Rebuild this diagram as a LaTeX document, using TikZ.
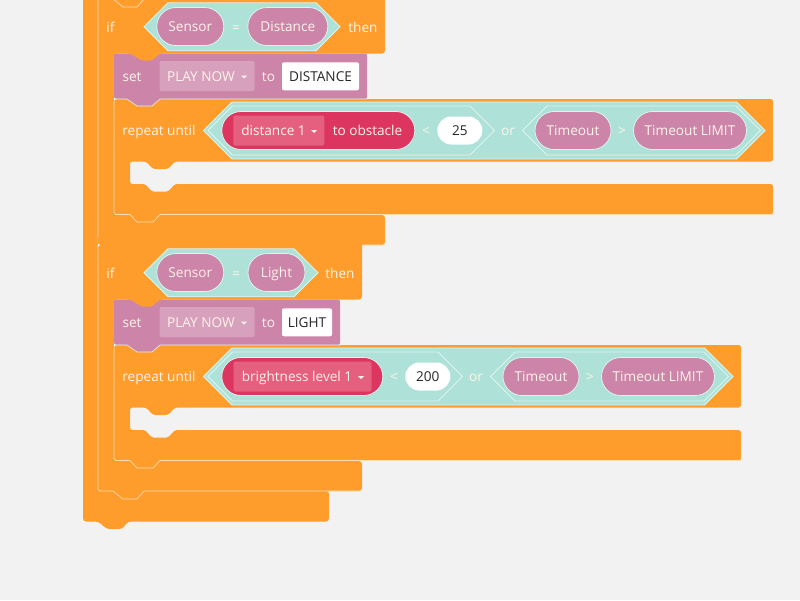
\documentclass[tikz,border=0pt]{standalone}
\usepackage{fontspec}
\setmainfont{Open Sans}
\usetikzlibrary{shapes.misc}
\definecolor{bgc}{HTML}{F2F2F2}
\definecolor{ctrl}{HTML}{FF9D2C}
\definecolor{edge}{HTML}{FFDDB0}
\definecolor{teal}{HTML}{AEE2D8}
\definecolor{tealedge}{HTML}{DDF4EE}
\definecolor{var}{HTML}{CC85A9}
\definecolor{vardrop}{HTML}{D7A0BC}
\definecolor{sense}{HTML}{DC3560}
\definecolor{sensedrop}{HTML}{E5607F}
\definecolor{ink}{HTML}{FFF4E8}
\tikzset{
	lbl/.style={inner sep=0, text=ink, text height=10pt, text depth=0pt, font=\fontsize{13.6}{16}\selectfont},
	oval/.style={rounded rectangle, draw=tealedge, fill=var, line width=0.8pt, inner sep=0, minimum height=38pt, text=ink, text height=10pt, text depth=0pt, font=\fontsize{13.6}{16}\selectfont},
	redoval/.style={oval, fill=sense},
	numoval/.style={rounded rectangle, fill=white, inner sep=0, minimum height=28pt, text=black!85, text height=10pt, text depth=0pt, font=\fontsize{13.6}{16}\selectfont},
	dropbox/.style={rounded corners=2pt, inner sep=0, minimum height=30pt, fill=vardrop, text=ink, text height=10pt, text depth=0pt, font=\fontsize{13.6}{16}\selectfont},
	reddrop/.style={dropbox, fill=sensedrop},
	valbox/.style={rounded corners=2pt, inner sep=0, minimum height=28pt, fill=white, text=black!85, text height=10pt, text depth=0pt, font=\fontsize{13.6}{16}\selectfont},
}
% #1 right end of the if block
\newcommand{\ifshape}[1]{
	\fill[ctrl, rounded corners=3pt] (98,-10) -- (#1,-10) -- (#1,53.5) -- (114,53.5) -- (114,215) -- (#1,215) -- (#1,245) -- (144,245) -- (137,253) -- (123,253) -- (113,245) -- (98,245) -- cycle;
	\fill[ctrl] (128,53) -- (162,53) -- (153,62) -- (140,62) -- cycle;
	\draw[edge, line width=0.7pt] (98,-1) -- (98,243) -- (100,245) -- (113,245) -- (123,253) -- (137,253) -- (144,245) -- (#1,245);
	\fill[white] (98,-2.5) -- (100,-1) -- (98,0.5) -- cycle;
}
% #1 right end of the repeat block
\newcommand{\repeatshape}[1]{
	\fill[ctrl, rounded corners=2.5pt] (114,99) -- (#1,99) -- (#1,161.5) -- (175,161.5) -- (168,169) -- (153,169) -- (146,161.5) -- (130,161.5) -- (130,184) -- (145,184) -- (152,191.7) -- (168,191.7) -- (175,184) -- (#1,184) -- (#1,214.5) -- (160,214.5) -- (153,222) -- (137,222) -- (130,214.5) -- (114,214.5) -- cycle;
	\draw[edge, line width=0.7pt] (114,101) -- (114,212.5) -- (116,214.5) -- (130,214.5) -- (137,222) -- (153,222) -- (160,214.5) -- (#1,214.5);
}
% #1 right end of the set block
\newcommand{\setshape}[1]{
	\fill[var, rounded corners=2pt] (114,53.5) -- (130,53.5) -- (141.7,60.7) -- (152,60.7) -- (160,53.5) -- (#1,53.5) -- (#1,99) -- (160,99) -- (152,106) -- (137,106) -- (127,99) -- (114,99) -- cycle;
	\draw[tealedge, line width=0.6pt] (#1,99) -- (160,99) -- (152,106) -- (137,106) -- (127,99) -- (116,99);
	\fill[white] (114,97.5) -- (116,99) -- (114,100.5) -- cycle;
}
% #1 left tip, #2 right tip, #3 middle, #4 half height
\newcommand{\hexshape}[4]{
	\draw[fill=teal, draw=tealedge, line width=0.8pt] (#1,#3) -- ({#1+#4},{#3-#4}) -- ({#2-#4},{#3-#4}) -- (#2,#3) -- ({#2-#4},{#3+#4}) -- ({#1+#4},{#3+#4}) -- cycle;
}
\newcommand{\hexline}[4]{
	\draw[draw=tealedge, line width=0.8pt] (#1,#3) -- ({#1+#4},{#3-#4}) -- ({#2-#4},{#3-#4}) -- (#2,#3) -- ({#2-#4},{#3+#4}) -- ({#1+#4},{#3+#4}) -- cycle;
}
\newcommand{\dropmark}[2]{
	\fill[ink] ({#1-3},{#2-1.5}) -- ({#1+3},{#2-1.5}) -- (#1,{#2+1.5}) -- cycle;
}
\begin{document}
\begin{tikzpicture}[x=1pt, y=-1pt]
	\clip (0,0) rectangle (800,600);
	\fill[bgc] (0,0) rectangle (800,600);
	% outer block
	\fill[ctrl, rounded corners=3pt] (83,-10) -- (110,-10) -- (110,491) -- (329,491) -- (329,521.5) -- (128,521.5) -- (122,529) -- (107,529) -- (98,521.5) -- (83,521.5) -- cycle;
	% first if
	\ifshape{385}
	\draw[edge, line width=0.7pt] (98,-1) -- (113,-1) -- (123,7) -- (137,7) -- (144,-1) -- (385,-1);
	\repeatshape{773}
	\setshape{367}
	\hexshape{144}{340}{26.8}{24}
	\node[lbl] (ifa) at (110.5,27) {if};
	\node[oval, minimum width=67pt] (sensora) at (190.3,26.5) {Sensor};
	\node[lbl] (eqa) at (236,27) {=};
	\node[oval, minimum width=80pt] (distval) at (287.8,26.5) {Distance};
	\node[lbl] (thena) at (363,27) {then};
	\node[lbl] (seta) at (132,76.5) {set};
	\node[dropbox, minimum width=95pt] (playa) at (207,76) {};
	\node[lbl, anchor=west] (playtxta) at (167,76.5) {PLAY NOW};
	\dropmark{244}{77}
	\node[lbl] (toa) at (268.5,76.5) {to};
	\node[valbox, minimum width=77pt] (vala) at (320.5,76.3) {DISTANCE};
	\node[lbl] (repa) at (159,130.5) {repeat until};
	\hexshape{203.5}{765}{130.5}{28.5}
	\hexline{208}{494.5}{130.5}{24.5}
	\hexline{522.5}{760.5}{130.5}{24.5}
	\node[redoval, minimum width=193pt] (sensea) at (318.3,130.5) {};
	\node[reddrop, minimum width=91pt] (dropa) at (278.8,130.5) {};
	\node[lbl] (disttxt) at (273.5,130.5) {distance 1};
	\dropmark{314}{131.5}
	\node[lbl, text=ink] (obst) at (367.5,130.5) {to obstacle};
	\node[lbl] (lta) at (426,130.5) {<};
	\node[numoval, minimum width=45pt] (numa) at (459.8,130.5) {25};
	\node[lbl] (ora) at (508,130.5) {or};
	\node[oval, minimum width=76pt] (timea) at (573,130.5) {Timeout};
	\node[lbl] (gta) at (622,130.5) {>};
	\node[oval, minimum width=113pt] (limita) at (690,130.5) {Timeout LIMIT};
	% second if
	\begin{scope}[yshift=-246pt]
		\ifshape{362}
		\repeatshape{741}
		\setshape{340}
		\hexshape{144}{318}{26.8}{24}
		\node[lbl] (ifb) at (110.5,27) {if};
		\node[oval, minimum width=67pt] (sensorb) at (190.3,26.5) {Sensor};
		\node[lbl] (eqb) at (236,27) {=};
		\node[oval, minimum width=57pt] (lightval) at (276.5,26.5) {Light};
		\node[lbl] (thenb) at (340,27) {then};
		\node[lbl] (setb) at (132,76.5) {set};
		\node[dropbox, minimum width=95pt] (playb) at (207,76) {};
		\node[lbl, anchor=west] (playtxtb) at (167,76.5) {PLAY NOW};
		\dropmark{244}{77}
		\node[lbl] (tob) at (268.5,76.5) {to};
		\node[valbox, minimum width=50pt] (valb) at (307,76.3) {LIGHT};
		\node[lbl] (repb) at (159,130.5) {repeat until};
		\hexshape{203.5}{733}{130.5}{28.5}
		\hexline{208}{462.5}{130.5}{24.5}
		\hexline{490.5}{728.5}{130.5}{24.5}
		\node[redoval, minimum width=161pt] (senseb) at (302.3,130.5) {};
		\node[reddrop, minimum width=138pt] (dropb) at (302.5,130.5) {};
		\node[lbl] (brighttxt) at (297,130.5) {brightness level 1};
		\dropmark{361}{131.5}
		\node[lbl] (ltb) at (394,130.5) {<};
		\node[numoval, minimum width=45pt] (numb) at (427.8,130.5) {200};
		\node[lbl] (orb) at (476,130.5) {or};
		\node[oval, minimum width=76pt] (timeb) at (541,130.5) {Timeout};
		\node[lbl] (gtb) at (590,130.5) {>};
		\node[oval, minimum width=113pt] (limitb) at (658,130.5) {Timeout LIMIT};
	\end{scope}
\end{tikzpicture}
\end{document}
